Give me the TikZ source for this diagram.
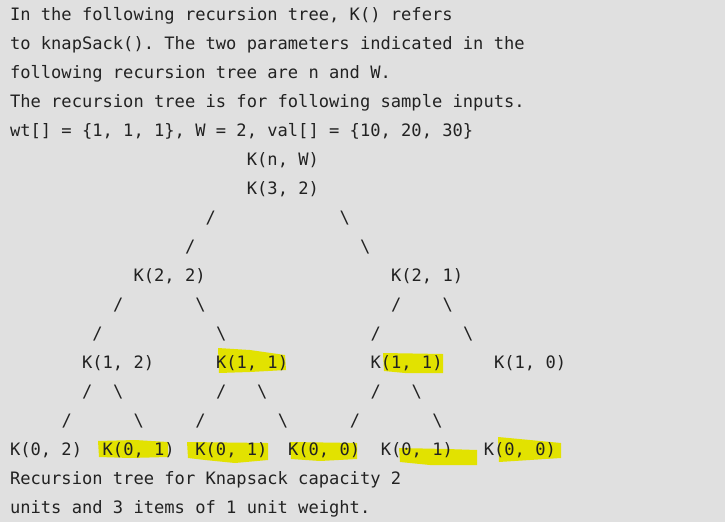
\documentclass[tikz,border=0pt]{standalone}
\usepackage{fontspec}
\setmonofont{DejaVu Sans Mono}
\definecolor{bgc}{HTML}{E0E0E0}
\definecolor{txt}{HTML}{222222}
\definecolor{hl}{HTML}{E2E200}
\tikzset{
  t/.style={anchor=base west, inner sep=0pt, outer sep=0pt, text=txt,
    font=\ttfamily\fontsize{17.1}{20}\selectfont},
  mark/.style={fill=hl, draw=none}
}
\begin{document}
\begin{tikzpicture}[x=1pt,y=-1pt]
\useasboundingbox (0,0) rectangle (725,522);
\fill[bgc] (0,0) rectangle (725,522);
% highlights
\fill[hl] (218,348) -- (250,350) -- (285,355) -- (286,370) -- (250,372) -- (219,373) -- cycle;
\fill[hl] (383,353) -- (443,354) -- (443,373) -- (405,373) -- (384,371) -- cycle;
\fill[hl] (98,441) -- (135,440) -- (168,442) -- (168,457) -- (130,458) -- (99,457) -- cycle;
\fill[hl] (187,442) -- (268,443) -- (268,460) -- (235,463) -- (205,460) -- (188,458) -- cycle;
\fill[hl] (290,442) -- (357,443) -- (357,459) -- (320,461) -- (291,459) -- cycle;
\fill[hl] (399,448) -- (447,449) -- (477,450) -- (477,465) -- (430,465) -- (400,462) -- cycle;
\fill[hl] (498,437) -- (530,440) -- (561,443) -- (561,458) -- (530,460) -- (499,462) -- cycle;
% prose
\node[t] (l1) at (10,20.5) {In the following recursion tree, K() refers};
\node[t] (l2) at (10,49.5) {to knapSack(). The two parameters indicated in the};
\node[t] (l3) at (10,78.5) {following recursion tree are n and W.};
\node[t] (l4) at (10,107.5) {The recursion tree is for following sample inputs.};
\node[t] (l5) at (10,136.5) {wt[] = \{1, 1, 1\}, W = 2, val[] = \{10, 20, 30\}};
% tree nodes
\node[t] (knw) at ({10+10.3*23},165.5) {K(n, W)};
\node[t] (k32) at ({10+10.3*23},194.5) {K(3, 2)};
\node[t] (k22) at ({10+10.3*12},281.5) {K(2, 2)};
\node[t] (k21) at ({10+10.3*37},281.5) {K(2, 1)};
\node[t] (k12) at ({10+10.3*7},368.5) {K(1, 2)};
\node[t] (k11a) at ({10+10.3*20},368.5) {K(1, 1)};
\node[t] (k11b) at ({10+10.3*35},368.5) {K(1, 1)};
\node[t] (k10) at ({10+10.3*47},368.5) {K(1, 0)};
\node[t] (k02) at ({10+10.3*0},455.5) {K(0, 2)};
\node[t] (k01a) at ({10+10.3*9},455.5) {K(0, 1)};
\node[t] (k01b) at ({10+10.3*18},455.5) {K(0, 1)};
\node[t] (k00a) at ({10+10.3*27},455.5) {K(0, 0)};
\node[t] (k01c) at ({10+10.3*36},455.5) {K(0, 1)};
\node[t] (k00b) at ({10+10.3*46},455.5) {K(0, 0)};
% slashes
\foreach \c/\r [count=\i] in {19/223.5, 17/252.5, 10/310.5, 8/339.5, 37/310.5, 35/339.5,
    7/397.5, 5/426.5, 20/397.5, 18/426.5, 35/397.5, 33/426.5}
  \node[t] (fs\i) at ({10+10.3*\c},\r) {/};
\foreach \c/\r [count=\i] in {32/223.5, 34/252.5, 18/310.5, 20/339.5, 42/310.5, 44/339.5,
    10/397.5, 12/426.5, 24/397.5, 26/426.5, 39/397.5, 41/426.5}
  \node[t] (bs\i) at ({10+10.3*\c},\r) {\textbackslash};
% caption
\node[t] (c1) at (10,484.5) {Recursion tree for Knapsack capacity 2};
\node[t] (c2) at (10,513.5) {units and 3 items of 1 unit weight.};
\end{tikzpicture}
\end{document}
